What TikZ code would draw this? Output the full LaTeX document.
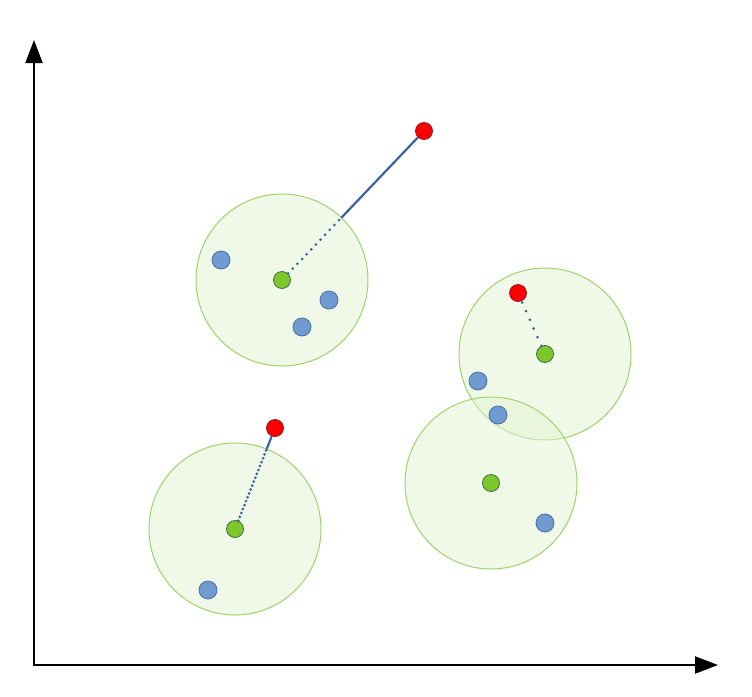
\documentclass[tikz,border=0pt]{standalone}
\usepackage{amsmath}
\usepackage{tikz}
\usetikzlibrary{calc}
\usetikzlibrary{arrows.meta}
\definecolor{ringline}{RGB}{155,212,106}
\definecolor{ringfill}{RGB}{226,242,210}
\definecolor{centrefill}{RGB}{125,199,42}
\definecolor{centreline}{RGB}{60,110,70}
\definecolor{pointfill}{RGB}{111,155,209}
\definecolor{pointline}{RGB}{74,111,165}
\definecolor{farline}{RGB}{150,20,30}
\definecolor{linkcol}{RGB}{58,100,160}
\tikzset{>={Triangle[length=23pt,width=17pt]}}
\tikzset{
  ring/.style={circle,draw=ringline,line width=1pt,fill=ringfill,fill opacity=0.5,
    minimum size=172pt,inner sep=0pt},
  centre/.style={circle,draw=centreline,fill=centrefill,line width=0.8pt,
    minimum size=17pt,inner sep=0pt},
  sample/.style={circle,draw=pointline,fill=pointfill,line width=0.8pt,
    minimum size=18pt,inner sep=0pt},
  outlier/.style={circle,draw=farline,fill=red,line width=0.8pt,
    minimum size=17pt,inner sep=0pt},
  near/.style={linkcol,line width=3pt,line cap=round,dash pattern=on 0pt off #1},
  far/.style={linkcol,line width=2.2pt}
}

\begin{document}
\begin{tikzpicture}[x=1pt,y=-1pt]
      \useasboundingbox (0,0) rectangle (752,696);

      \coordinate (o) at (34,665);
      \coordinate (ytip) at (34,40);
      \coordinate (xtip) at (718,665);

      \draw [<->,line width=2.2pt] (ytip) -- (o) -- (xtip);

      \node [ring] (c1) at (282,280) {};
      \node [ring] (c2) at (545,354) {};
      \node [ring] (c3) at (235,529) {};
      \node [ring] (c4) at (491,483) {};

      \node [centre] (g1) at (282,280) {};
      \node [centre] (g2) at (545,354) {};
      \node [centre] (g3) at (235,529) {};
      \node [centre] (g4) at (491,483) {};

      \node [outlier] (r1) at (424,131) {};
      \node [outlier] (r2) at (518,293) {};
      \node [outlier] (r3) at (275,428) {};

      \coordinate (e1) at ($(g1)!86pt!(r1)$);
      \coordinate (e3) at ($(g3)!86pt!(r3)$);

      \draw [near=6.7pt] (g1) -- (e1);
      \draw [far] (e1) -- (r1);

      \draw [near=9.5pt] (g2) -- (r2);

      \draw [near=4.2pt] (g3) -- (e3);
      \draw [far] (e3) -- (r3);

      \node [sample] (s1) at (221,260) {};
      \node [sample] (s2) at (329,300) {};
      \node [sample] (s3) at (302,327) {};
      \node [sample] (s4) at (478,381) {};
      \node [sample] (s5) at (498,415) {};
      \node [sample] (s6) at (208,590) {};
      \node [sample] (s7) at (545,523) {};
  \end{tikzpicture}
\end{document}
